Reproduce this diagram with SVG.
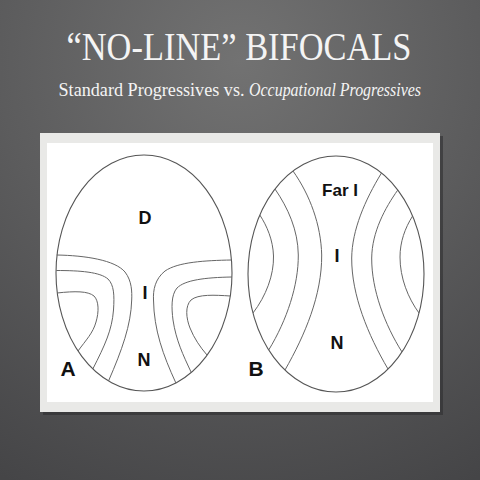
<svg xmlns="http://www.w3.org/2000/svg" width="480" height="480" viewBox="0 0 480 480">
  <defs>
    <radialGradient id="bg" cx="240" cy="60" r="480" gradientUnits="userSpaceOnUse">
      <stop offset="0" stop-color="#727272"/>
      <stop offset="0.5" stop-color="#5c5c5d"/>
      <stop offset="1" stop-color="#454547"/>
    </radialGradient>
    <style>
      .lens{fill:none;stroke:#555;stroke-width:1.1}
      .zone{fill:none;stroke:#666;stroke-width:1}
      .lbl{font-family:"Liberation Sans",Arial,sans-serif;font-weight:bold;fill:#111;text-anchor:middle}
      .ttl{font-family:"Liberation Serif","Times New Roman",serif;fill:#f4f4f4}
    </style>
  </defs>
  <rect width="480" height="480" fill="url(#bg)"/>
  <text class="ttl" x="239" y="60" font-size="41" text-anchor="middle" textLength="345" lengthAdjust="spacingAndGlyphs">“NO-LINE” BIFOCALS</text>
  <text class="ttl" x="58.5" y="96" font-size="19" textLength="186" lengthAdjust="spacingAndGlyphs" fill="#e6e6e6">Standard Progressives vs.</text>
  <text class="ttl" x="249" y="96" font-size="19" font-style="italic" textLength="172" lengthAdjust="spacingAndGlyphs" fill="#e6e6e6">Occupational Progressives</text>

  <rect x="43" y="136" width="400" height="279" fill="#2e2e30" opacity="0.6"/>
  <rect x="40" y="133" width="400" height="279" fill="#e9e9e7"/>
  <rect x="47" y="143" width="386" height="259" fill="#ffffff"/>

  <g id="lensA">
    <ellipse class="lens" cx="144" cy="273" rx="88" ry="118"/>
    <path class="zone" d="M56.7,255 C85,255.5 115,260 125,272 C132,281 132,292 131.7,300 C131,325 122,350 108.5,381"/>
    <path class="zone" d="M56.3,270.5 C80,270.5 100,272 108,279 C114,285 114.5,295 113.5,310 C112,330 105,345 92.8,369"/>
    <path class="zone" d="M57,293 C75,291 88,291 94,296 C99,301 99,312 96,322 C93,333 86,340 78,351"/>
    <path class="zone" d="M231.5,260 C205,260.5 178,262 165,271 C155,279 153,290 153.5,300 C154,330 163,355 175.9,383"/>
    <path class="zone" d="M231.9,277 C205,277.5 185,280 177,288 C171,295 171.5,308 173,320 C176,340 183,355 191.3,372.5"/>
    <path class="zone" d="M230.3,296 C215,295 198,294 191,300 C185,306 186,318 190,328 C194,338 200,347 207,355"/>
    <text class="lbl" x="145" y="224" font-size="18">D</text>
    <text class="lbl" x="145" y="299" font-size="18">I</text>
    <text class="lbl" x="144" y="366" font-size="18">N</text>
    <text class="lbl" x="68" y="376" font-size="21">A</text>
  </g>

  <g id="lensB">
    <ellipse class="lens" cx="336" cy="274" rx="88" ry="118"/>
    <path class="zone" d="M259.8,215 C267,226 273,240 273.5,256 C274,275 266,296 253,313"/>
    <path class="zone" d="M275,189 C288,208 298,230 298.3,255 C298.5,285 287,320 268.7,350"/>
    <path class="zone" d="M293,171 C310,195 321,225 321.7,255 C322,295 305,335 285,370"/>
    <path class="zone" d="M381.5,173 C365,200 352,230 351.7,258 C351.5,295 368,335 388,369"/>
    <path class="zone" d="M397.8,190 C385,208 372,232 371.7,258 C371.5,290 385,325 402,352"/>
    <path class="zone" d="M412.6,216 C405,228 400,242 400,257 C400,278 408,298 419,313"/>
    <text class="lbl" x="340" y="196" font-size="17">Far I</text>
    <text class="lbl" x="337" y="262" font-size="18">I</text>
    <text class="lbl" x="337" y="349" font-size="18">N</text>
    <text class="lbl" x="256" y="376" font-size="21">B</text>
  </g>
</svg>
